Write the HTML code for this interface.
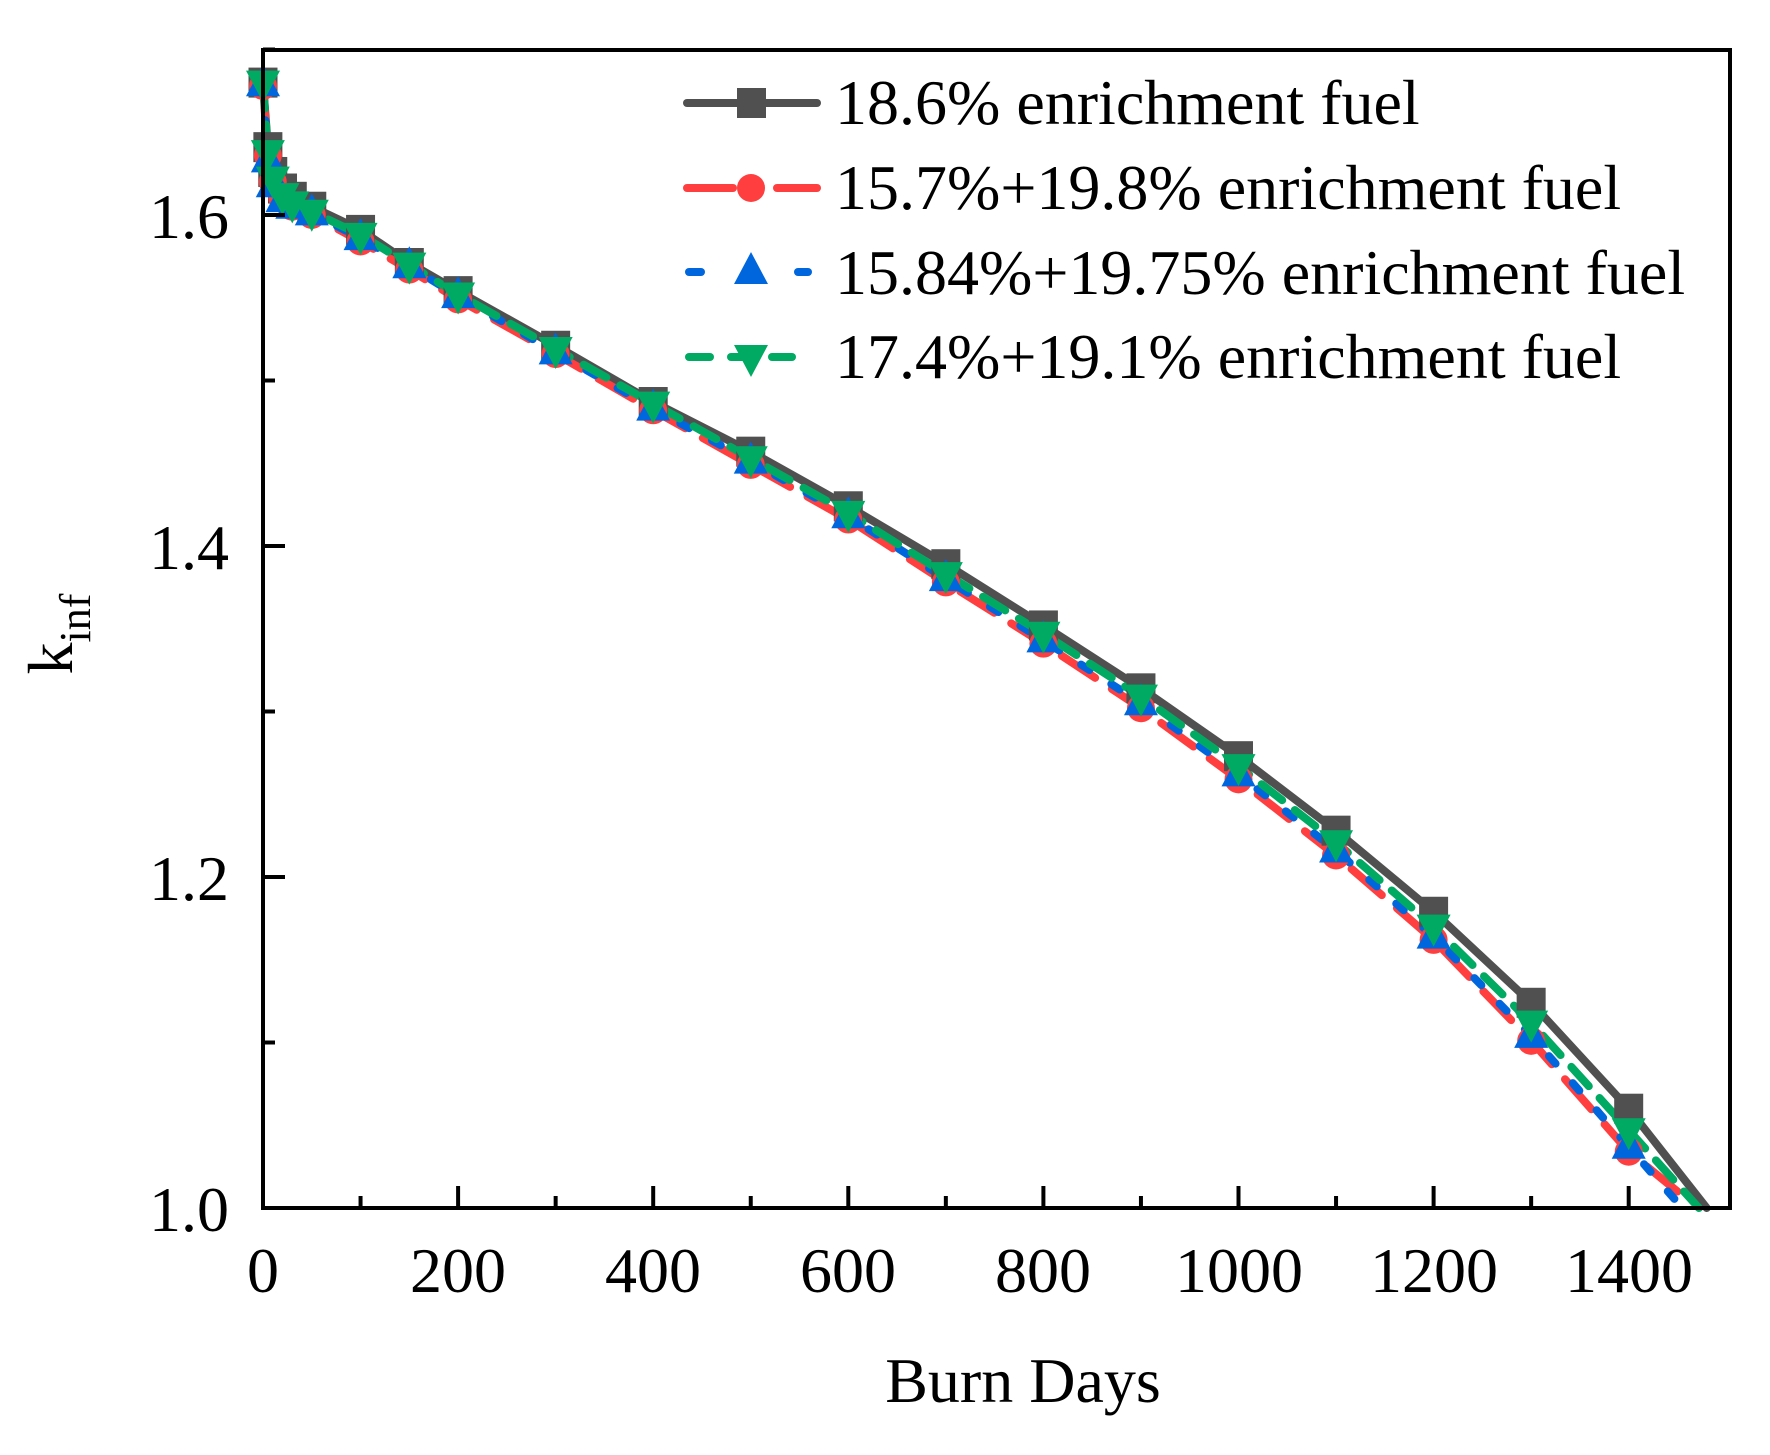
<!DOCTYPE html>
<html><head><meta charset="utf-8">
<style>
html,body{margin:0;padding:0;background:#fff;}
svg{display:block;}
text,tspan{font-family:"Liberation Serif","Times New Roman",serif;fill:#000;}
.lg{position:absolute;left:835px;font-family:"Liberation Serif","DejaVu Serif",serif;font-size:64px;line-height:1;white-space:nowrap;color:#000;}
</style></head>
<body>
<div style="position:relative;width:1770px;height:1455px;">
<svg id="s" width="1770" height="1455" viewBox="0 0 1770 1455" xmlns="http://www.w3.org/2000/svg">
<rect width="1770" height="1455" fill="#fff"/>
<g id="series"></g>
<g id="axes"></g>
<g stroke-linecap="round" stroke-width="8" fill="none">
<line x1="687" y1="103" x2="817" y2="103" stroke="#505050"/>
<line x1="687" y1="188" x2="733" y2="188" stroke="#ff3f3f"/><line x1="777" y1="188" x2="817" y2="188" stroke="#ff3f3f"/>
<line x1="689" y1="272" x2="701" y2="272" stroke="#0066dd"/><line x1="798" y1="272" x2="808" y2="272" stroke="#0066dd"/>
<line x1="689" y1="357" x2="710" y2="357" stroke="#00aa62"/><line x1="731" y1="357" x2="743" y2="357" stroke="#00aa62"/><line x1="772" y1="357" x2="792" y2="357" stroke="#00aa62"/>
</g>
<rect x="737" y="88" width="29" height="30" fill="#505050"/>
<circle cx="751" cy="188" r="14" fill="#ff3f3f"/>
<polygon points="734,284 768,284 751,252" fill="#0066dd"/>
<polygon points="734,345 768,345 751,377" fill="#00aa62"/>
<g font-size="64" text-anchor="end">
<text x="229" y="1231">1.0</text>
<text x="229" y="900">1.2</text>
<text x="229" y="569">1.4</text>
<text x="229" y="238">1.6</text>
</g>
<g font-size="64" text-anchor="middle">
<text x="263" y="1292">0</text>
<text x="458" y="1292">200</text>
<text x="653" y="1292">400</text>
<text x="848" y="1292">600</text>
<text x="1043" y="1292">800</text>
<text x="1239" y="1292">1000</text>
<text x="1434" y="1292">1200</text>
<text x="1629" y="1292">1400</text>
</g>
<text x="1023" y="1402" font-size="64" text-anchor="middle">Burn Days</text>
<text transform="translate(72,634) rotate(-90)" font-size="64" text-anchor="middle">k<tspan font-size="44" dy="18">inf</tspan></text>
</svg>
<div class="lg" style="top:71px;">18.6% enrichment fuel</div>
<div class="lg" style="top:156px;">15.7%+19.8% enrichment fuel</div>
<div class="lg" style="top:241px;">15.84%+19.75% enrichment fuel</div>
<div class="lg" style="top:325px;">17.4%+19.1% enrichment fuel</div>
</div>
<script>
(function(){
var NS="http://www.w3.org/2000/svg";
function X(d){return 263+d*0.9755;}
function Y(k){return 1208-(k-1)*1655;}
var days=[0,5,10,20,30,50,100,150,200,300,400,500,600,700,800,900,1000,1100,1200,1300,1400];
var S=[
 {c:"#505050",dash:null,m:"sq",k:[1.680,1.641,1.626,1.616,1.611,1.605,1.591,1.571,1.554,1.521,1.487,1.457,1.424,1.389,1.352,1.314,1.273,1.228,1.179,1.124,1.060],end:[1480,1.0]},
 {c:"#ff3f3f",dash:"40 20",m:"ci",k:[1.678,1.636,1.620,1.610,1.605,1.600,1.584,1.567,1.549,1.516,1.482,1.449,1.416,1.378,1.341,1.302,1.259,1.213,1.162,1.101,1.034],end:[1450,1.01]},
 {c:"#0066dd",dash:"10 26",m:"up",k:[1.679,1.633,1.618,1.609,1.605,1.601,1.586,1.569,1.551,1.517,1.483,1.451,1.418,1.380,1.343,1.305,1.262,1.216,1.164,1.104,1.037],end:[1455,1.0]},
 {c:"#00aa62",dash:"26 16",m:"dn",k:[1.680,1.638,1.622,1.612,1.607,1.602,1.588,1.570,1.552,1.519,1.486,1.453,1.420,1.383,1.347,1.309,1.267,1.221,1.170,1.112,1.047],end:[1472,1.0]}
];
var g=document.getElementById("series");
S.forEach(function(s){
 var pts=days.map(function(d,i){return X(d).toFixed(1)+","+Y(s.k[i]).toFixed(1);});
 pts.push(X(s.end[0]).toFixed(1)+","+Y(s.end[1]).toFixed(1));
 var p=document.createElementNS(NS,"polyline");
 p.setAttribute("points",pts.join(" "));
 p.setAttribute("fill","none");p.setAttribute("stroke",s.c);p.setAttribute("stroke-width","8");
 p.setAttribute("stroke-linecap","round");p.setAttribute("stroke-linejoin","round");
 if(s.dash)p.setAttribute("stroke-dasharray",s.dash);
 g.appendChild(p);
});
S.forEach(function(s){
 days.forEach(function(d,i){
  var x=X(d),y=Y(s.k[i]),e;
  if(s.m=="sq"){e=document.createElementNS(NS,"rect");e.setAttribute("x",x-14.5);e.setAttribute("y",y-15);e.setAttribute("width",29);e.setAttribute("height",30);}
  else if(s.m=="ci"){e=document.createElementNS(NS,"circle");e.setAttribute("cx",x);e.setAttribute("cy",y);e.setAttribute("r",14);}
  else if(s.m=="up"){e=document.createElementNS(NS,"polygon");e.setAttribute("points",(x-17)+","+(y+12)+" "+(x+17)+","+(y+12)+" "+x+","+(y-20));}
  else {e=document.createElementNS(NS,"polygon");e.setAttribute("points",(x-17)+","+(y-12)+" "+(x+17)+","+(y-12)+" "+x+","+(y+20));}
  e.setAttribute("fill",s.c);g.appendChild(e);
 });
});
var a=document.getElementById("axes");
function L(x1,y1,x2,y2){var l=document.createElementNS(NS,"line");l.setAttribute("x1",x1);l.setAttribute("y1",y1);l.setAttribute("x2",x2);l.setAttribute("y2",y2);l.setAttribute("stroke","#000");l.setAttribute("stroke-width","4");a.appendChild(l);}
var r=document.createElementNS(NS,"rect");r.setAttribute("x",263);r.setAttribute("y",50);r.setAttribute("width",1467);r.setAttribute("height",1158);r.setAttribute("fill","none");r.setAttribute("stroke","#000");r.setAttribute("stroke-width","4");a.appendChild(r);
for(var d=100;d<=1400;d+=100){var x=X(d);L(x,1208,x,1208-(d%200==0?22:12));}
for(var k=1.1;k<1.71;k+=0.1){var y=Y(k);var maj=Math.round(k*10)%2==0;L(263,y,263+(maj?22:12),y);}
})();
</script>
</body></html>
